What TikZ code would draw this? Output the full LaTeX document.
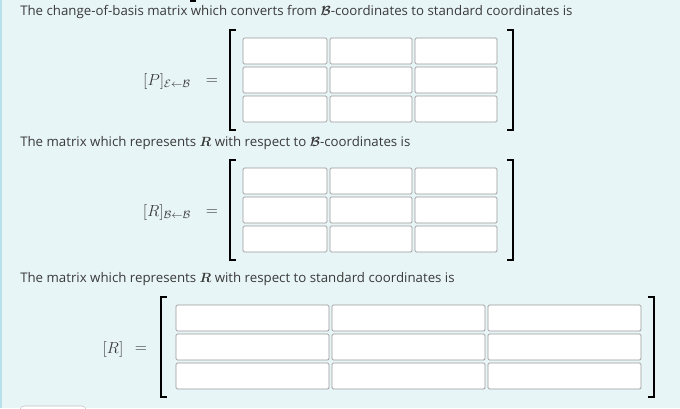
\documentclass[tikz,border=0pt]{standalone}
\usepackage{amsmath,bm}
\usepackage{fontspec}
\setmainfont{Open Sans}
\definecolor{bgc}{HTML}{E8F5F7}
\definecolor{edge}{HTML}{B8E0EA}
\definecolor{txt}{HTML}{3A3A3A}
\definecolor{boxc}{HTML}{9A9A9A}
\begin{document}
\begin{tikzpicture}[x=0.75pt,y=-0.75pt,
  cell/.style={draw=boxc,fill=white,rounded corners=1pt,line width=0.6pt},
  brk/.style={draw=black,line width=1.6pt},
  lbl/.style={anchor=west,text=txt,font=\fontsize{9.95}{12}\selectfont,inner sep=0pt},
  mlab/.style={text=txt,inner sep=0pt,font=\fontsize{11.5}{13}\selectfont}]
\fill[bgc] (0,0) rectangle (680,408);
\fill[edge] (0,0) rectangle (2,408);
\useasboundingbox (0,0) rectangle (680,408);
\fill[black] (190,0) rectangle (196,1.5);
\draw[boxc!60,fill=white,rounded corners=3pt] (20,410) -- (20,406) -- (86,406) -- (86,410);
\node[lbl] (t1) at (20,12) {The change-of-basis matrix which converts from $\bm{\mathcal{B}}$-coordinates to standard coordinates is};
\node[lbl] (t2) at (20,143) {The matrix which represents $\bm{R}$ with respect to $\bm{\mathcal{B}}$-coordinates is};
\node[lbl] (t3) at (20,279) {The matrix which represents $\bm{R}$ with respect to standard coordinates is};
% matrix 1 & 2
\foreach \top/\nm in {30/a,160/b}{
  \draw[brk] (236,\top) -- (230,\top) -- (230,\top+100) -- (236,\top+100);
  \draw[brk] (507,\top) -- (513,\top) -- (513,\top+100) -- (507,\top+100);
  \foreach \cx/\cw in {243/84,330/82,415/82}{
    \foreach \r in {0,1,2}{
      \draw[cell] (\cx,\top+8+29*\r) rectangle (\cx+\cw,\top+34+29*\r);
    }}
}
\node[mlab] (p) at (167,81) {$[P]_{\mathcal{E}\leftarrow\mathcal{B}}$};
\node[mlab] (pe) at (212,82) {$=$};
\node[mlab] (q) at (167,212) {$[R]_{\mathcal{B}\leftarrow\mathcal{B}}$};
\node[mlab] (qe) at (212,213) {$=$};
% matrix 3
\draw[brk] (167,297) -- (161,297) -- (161,397) -- (167,397);
\draw[brk] (648,297) -- (654,297) -- (654,397) -- (648,397);
\foreach \cx in {176,332,488}{
  \foreach \r in {0,1,2}{
    \draw[cell] (\cx,305+29*\r) rectangle (\cx+153,331+29*\r);
  }}
\node[mlab] (r) at (113,349) {$[R]$};
\node[mlab] (re) at (141,350) {$=$};
\end{tikzpicture}
\end{document}
